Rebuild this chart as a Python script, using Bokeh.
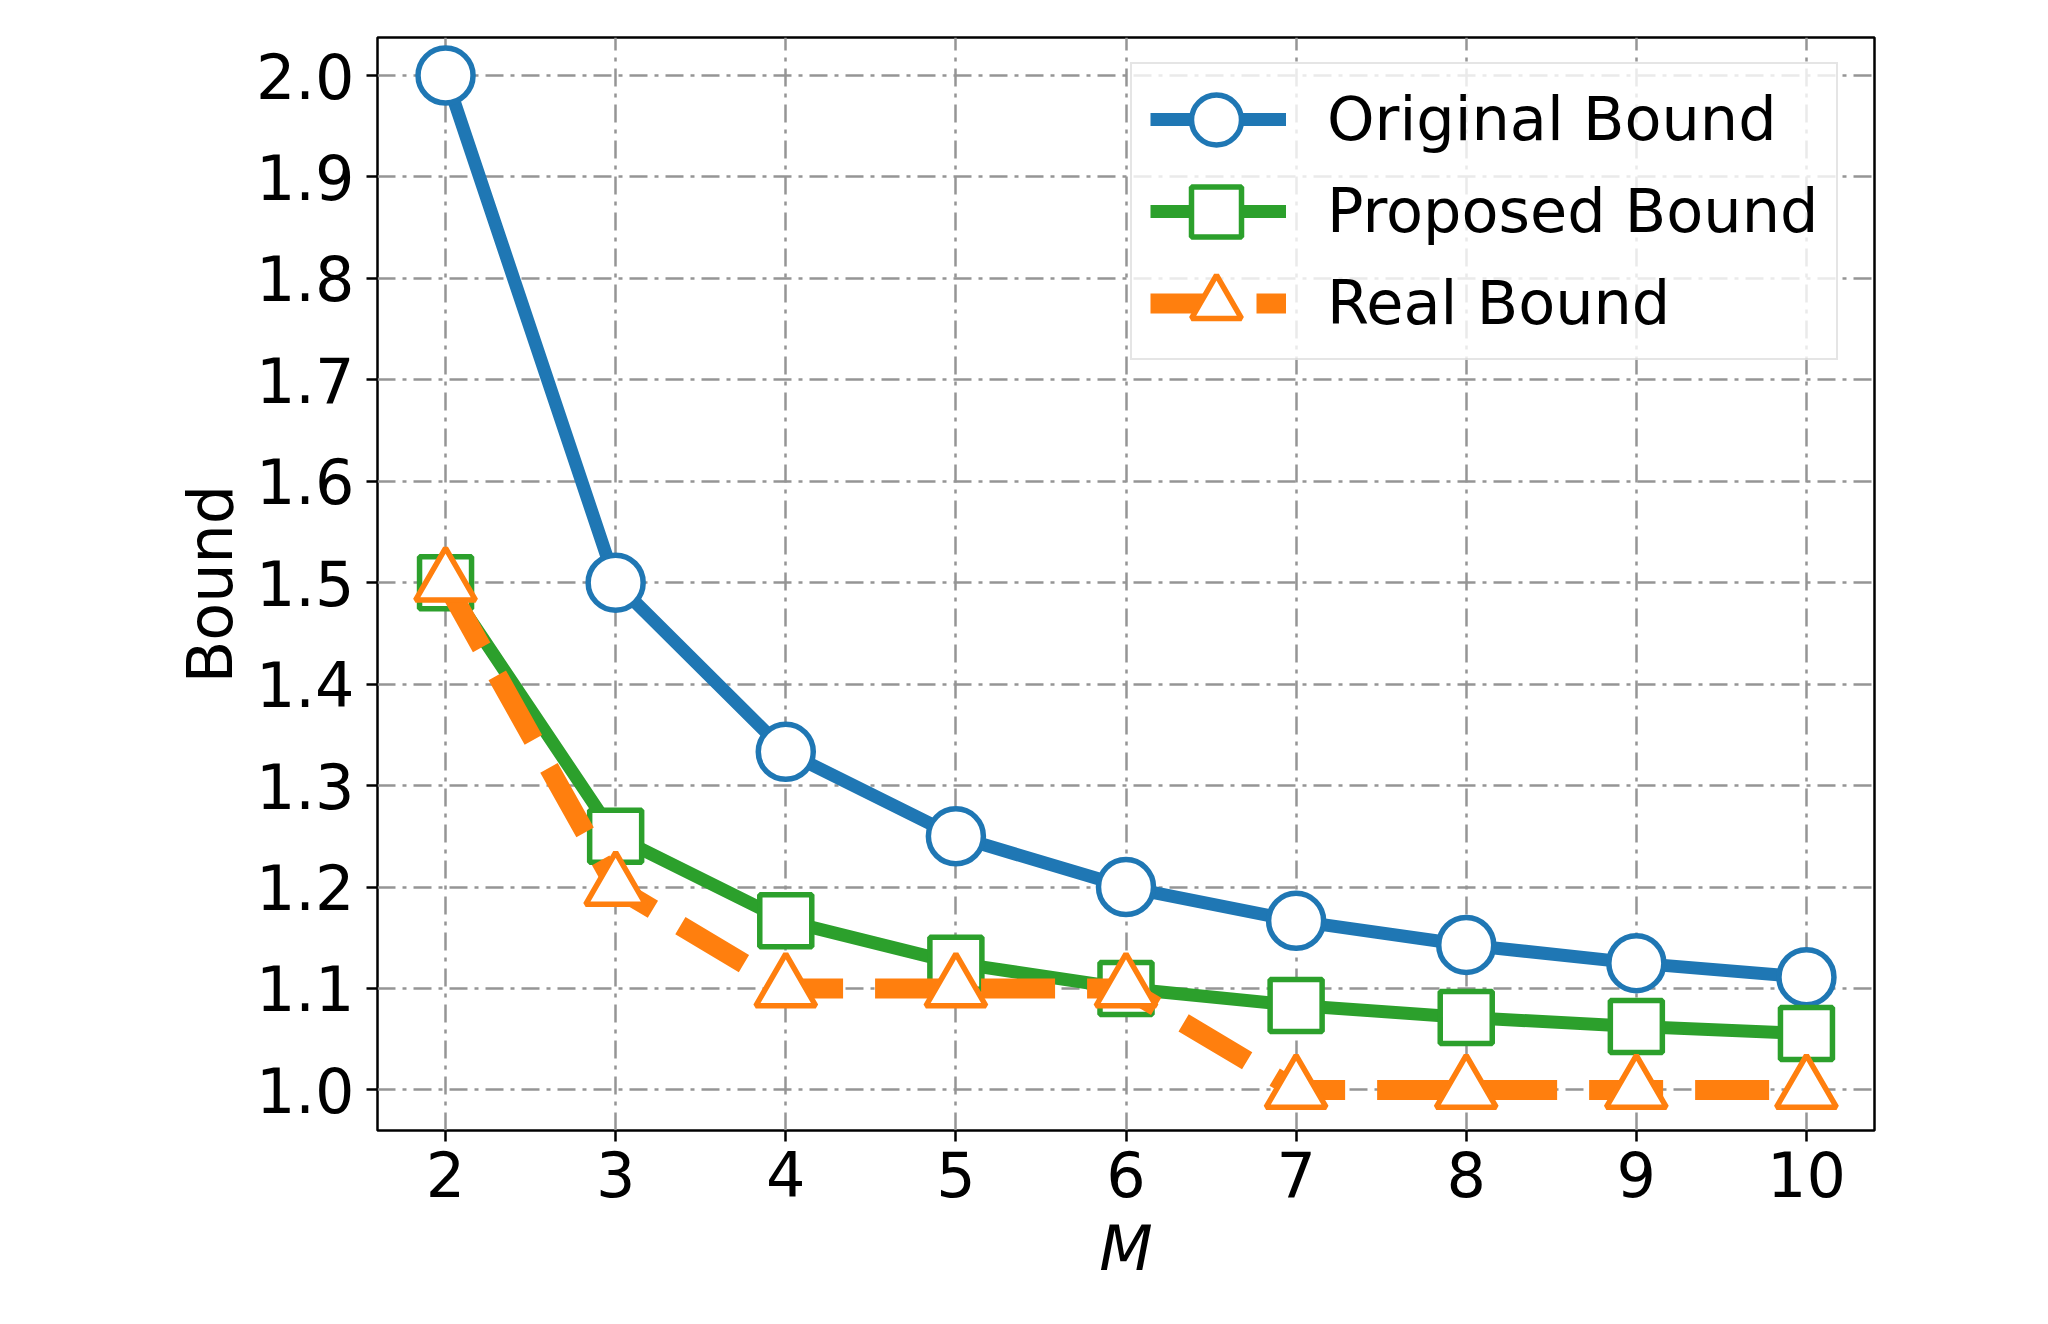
from bokeh.plotting import figure
from bokeh.models import Range1d, FixedTicker, Legend, LegendItem, CustomJSTickFormatter
from bokeh.embed import file_html
from bokeh.resources import INLINE

M = [2, 3, 4, 5, 6, 7, 8, 9, 10]
original = [2.0, 1.5, 1.3333, 1.25, 1.2, 1.1667, 1.1429, 1.125, 1.1111]
proposed = [1.5, 1.25, 1.1667, 1.125, 1.1, 1.0833, 1.0714, 1.0625, 1.0556]
real = [1.5, 1.2, 1.1, 1.1, 1.1, 1.0, 1.0, 1.0, 1.0]
y_ticks = [1.0, 1.1, 1.2, 1.3, 1.4, 1.5, 1.6, 1.7, 1.8, 1.9, 2.0]
labels = ["Original Bound", "Proposed Bound", "Real Bound"]

BLUE = "#1f77b4"
ORANGE = "#ff7f0e"
GREEN = "#2ca02c"
FONT = "DejaVu Sans"
FS = "62px"

p = figure(frame_width=1497, frame_height=1093,
           min_border_left=377, min_border_right=150,
           min_border_top=37, min_border_bottom=165,
           x_range=Range1d(1.6, 10.4), y_range=Range1d(0.96, 2.0375),
           output_backend="svg", toolbar_location=None)

p.background_fill_color = "white"
p.border_fill_color = "white"
p.outline_line_color = "black"
p.outline_line_width = 2.5

for g in (p.xgrid, p.ygrid):
    g.grid_line_color = "#959595"
    g.grid_line_width = 2.5
    g.grid_line_dash = "18 7 4 7"
p.xgrid.ticker = FixedTicker(ticks=M)
p.ygrid.ticker = FixedTicker(ticks=y_ticks)

p.xaxis.ticker = FixedTicker(ticks=M)
p.yaxis.ticker = FixedTicker(ticks=y_ticks)
p.yaxis.formatter = CustomJSTickFormatter(code="return tick.toFixed(1);")
for ax in (p.xaxis[0], p.yaxis[0]):
    ax.axis_line_color = None
    ax.major_tick_line_color = "black"
    ax.major_tick_line_width = 2.5
    ax.major_tick_out = 11
    ax.major_tick_in = 0
    ax.minor_tick_line_color = None
    ax.major_label_text_font = FONT
    ax.major_label_text_font_size = FS
    ax.major_label_text_color = "black"
    ax.axis_label_text_font = FONT
    ax.axis_label_text_font_size = FS
    ax.axis_label_text_color = "black"

p.xaxis.axis_label = "M"
p.xaxis.axis_label_text_font_style = "italic"
p.yaxis.axis_label = "Bound"
p.yaxis.axis_label_text_font_style = "normal"
p.xaxis.major_label_standoff = 9
p.yaxis.major_label_standoff = 12
p.xaxis.axis_label_standoff = 12
p.yaxis.axis_label_standoff = 6

l1 = p.line(M, original, line_color=BLUE, line_width=13)
s1 = p.scatter(M, original, marker="circle", size=55, fill_color="white",
               line_color=BLUE, line_width=5.5)
l2 = p.line(M, proposed, line_color=GREEN, line_width=13)
s2 = p.scatter(M, proposed, marker="square", size=52, fill_color="white",
               line_color=GREEN, line_width=5.5)
l3 = p.line(M, real, line_color=ORANGE, line_width=20, line_dash="74 32")
s3 = p.scatter(M, real, marker="triangle", size=60, fill_color="white",
               line_color=ORANGE, line_width=5.5)

# main legend: box, lines, labels
legend = Legend(items=[
    LegendItem(label=labels[0], renderers=[l1]),
    LegendItem(label=labels[1], renderers=[l2]),
    LegendItem(label=labels[2], renderers=[l3]),
], location=(753, 770))
legend.label_text_font = FONT
legend.label_text_font_size = "60.5px"
legend.label_text_color = "black"
legend.glyph_width = 136
legend.glyph_height = 74
legend.label_height = 74
legend.label_width = 470
legend.label_standoff = 41
legend.spacing = 18
legend.padding = 18
legend.margin = 0
legend.border_line_color = "#cccccc"
legend.border_line_width = 2
legend.background_fill_color = "white"
legend.background_fill_alpha = 0.8
p.add_layout(legend, "center")

# marker overlays (transparent single-item legends) so legend markers are drawn large
for r, ypos in zip([s1, s2, s3], [948, 856, 764]):
    lg = Legend(items=[LegendItem(label=" ", renderers=[r])], location=(771, ypos))
    lg.glyph_width = 136
    lg.glyph_height = 125
    lg.label_height = 10
    lg.label_width = 0
    lg.label_standoff = 0
    lg.spacing = 0
    lg.padding = 0
    lg.margin = 0
    lg.border_line_color = None
    lg.background_fill_alpha = 0
    lg.label_text_font_size = "1px"
    p.add_layout(lg, "center")

open("out.html", "w").write(file_html(p, INLINE))
